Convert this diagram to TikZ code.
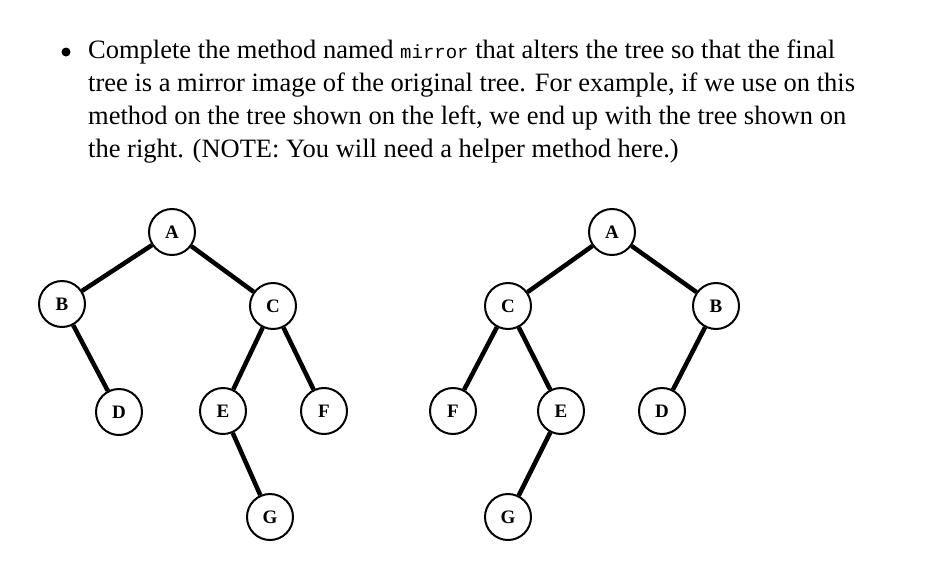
\documentclass[tikz,border=0pt]{standalone}
\usepackage{fontspec}
\setmainfont{Liberation Serif}
\setmonofont{Liberation Mono}
\begin{document}
\begin{tikzpicture}[x=1pt,y=-1pt,
  tn/.style={circle,draw=black,line width=2pt,minimum size=46pt,inner sep=0pt,font=\bfseries\fontsize{19}{19}\selectfont},
  ed/.style={line width=4.5pt},
  txt/.style={anchor=base west,inner sep=0pt,font=\fontsize{26.5}{26.5}\selectfont}]
\useasboundingbox (0,0) rectangle (926,576);
\fill (66,52) circle (4.5);
\node[txt] (l1) at (88,58) {Complete the method named {\ttfamily\fontsize{19}{19}\selectfont mirror} that alters the tree so that the final};
\node[txt] (l2) at (88,91) {tree is a mirror image of the original tree. For example, if we use on this};
\node[txt] (l3) at (88,124) {method on the tree shown on the left, we end up with the tree shown on};
\node[txt] (l4) at (88,157) {the right. (NOTE: You will need a helper method here.)};
% left tree
\node[tn] (A) at (172,232) {A};
\node[tn] (B) at (62,304) {B};
\node[tn] (C) at (273,306) {C};
\node[tn] (D) at (119,412) {D};
\node[tn] (E) at (223,411) {E};
\node[tn] (F) at (324,411) {F};
\node[tn] (G) at (270,517) {G};
\draw[ed] (A)--(B); \draw[ed] (A)--(C); \draw[ed] (B)--(D);
\draw[ed] (C)--(E); \draw[ed] (C)--(F); \draw[ed] (E)--(G);
% right tree
\node[tn] (A2) at (612,232) {A};
\node[tn] (C2) at (508,306) {C};
\node[tn] (B2) at (716,306) {B};
\node[tn] (F2) at (453,411) {F};
\node[tn] (E2) at (561,411) {E};
\node[tn] (D2) at (662,411) {D};
\node[tn] (G2) at (508,517) {G};
\draw[ed] (A2)--(C2); \draw[ed] (A2)--(B2); \draw[ed] (B2)--(D2);
\draw[ed] (C2)--(F2); \draw[ed] (C2)--(E2); \draw[ed] (E2)--(G2);
\end{tikzpicture}
\end{document}
